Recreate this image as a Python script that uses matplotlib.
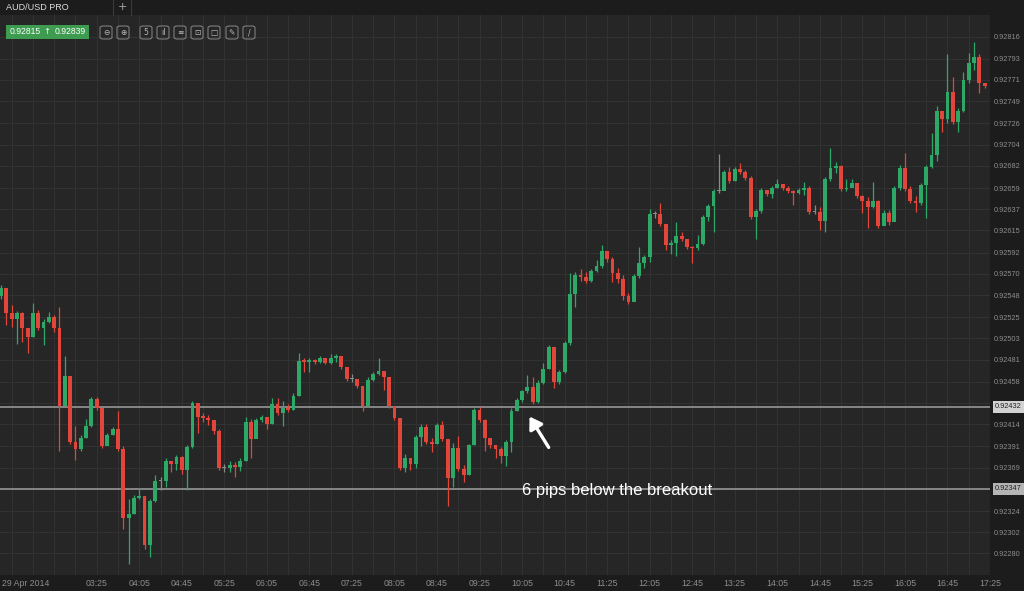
import numpy as np
import matplotlib
matplotlib.use("Agg")
import matplotlib.pyplot as plt
from matplotlib.patches import Rectangle, FancyBboxPatch
from matplotlib.transforms import blended_transform_factory

BG = "#262626"
BAR_BG = "#1c1c1c"
GRID = "#333333"
UP = "#2ea866"
DOWN = "#e2463b"
FLAT = "#8a8a8a"
LABEL = "#8c8c8c"
LEVEL = "#8e8e8e"
AXIS_FONT = "Liberation Sans"

# 5-minute AUD/USD candles, prices in 1e-5 units (first open 92547)
first_open = 92547
closes = [
    92555, 92529, 92523, 92529, 92514, 92505, 92529, 92514, 92520, 92525,
    92514, 92433, 92464, 92396, 92388, 92400, 92412, 92440, 92431, 92391,
    92403, 92409, 92388, 92317, 92321, 92338, 92340, 92289, 92334, 92355,
    92355, 92376, 92373, 92380, 92367, 92390, 92436, 92422, 92421, 92418,
    92407, 92369, 92369, 92372, 92370, 92376, 92416, 92399, 92418, 92422,
    92414, 92435, 92426, 92431, 92429, 92443, 92480, 92479, 92481, 92479,
    92483, 92478, 92483, 92485, 92473, 92461, 92461, 92454, 92433, 92460,
    92466, 92469, 92463, 92433, 92421, 92369, 92379, 92373, 92401, 92411,
    92396, 92394, 92413, 92399, 92358, 92389, 92368, 92361, 92392, 92429,
    92418, 92400, 92393, 92388, 92381, 92396, 92428, 92439, 92448, 92453,
    92437, 92457, 92471, 92494, 92458, 92468, 92498, 92549, 92569, 92567,
    92563, 92573, 92578, 92594, 92585, 92571, 92565, 92547, 92541, 92568,
    92581, 92587, 92632, 92632, 92622, 92600, 92602, 92609, 92606, 92598,
    92597, 92601, 92629, 92640, 92656, 92656, 92676, 92666, 92679, 92676,
    92669, 92629, 92635, 92657, 92653, 92659, 92663, 92659, 92656, 92654,
    92657, 92659, 92634, 92634, 92625, 92668, 92680, 92682, 92658, 92659,
    92664, 92651, 92646, 92639, 92646, 92620, 92633, 92624, 92659, 92680,
    92658, 92646, 92643, 92662, 92681, 92693, 92739, 92731, 92759, 92727,
    92739, 92771, 92789, 92795, 92768, 92765,
]
highs = [
    92558, 92555, 92538, 92531, 92530, 92514, 92540, 92532, 92523, 92530,
    92527, 92536, 92485, 92464, 92412, 92403, 92419, 92442, 92442, 92431,
    92405, 92411, 92428, 92391, 92337, 92341, 92348, 92340, 92336, 92361,
    92359, 92379, 92376, 92382, 92381, 92392, 92438, 92436, 92426, 92424,
    92418, 92409, 92373, 92376, 92375, 92379, 92422, 92419, 92420, 92424,
    92422, 92441, 92441, 92438, 92435, 92446, 92488, 92483, 92483, 92482,
    92485, 92483, 92487, 92487, 92485, 92473, 92466, 92461, 92454, 92463,
    92468, 92483, 92465, 92460, 92433, 92421, 92383, 92379, 92403, 92414,
    92414, 92400, 92415, 92417, 92398, 92395, 92402, 92372, 92394, 92431,
    92432, 92419, 92398, 92392, 92390, 92398, 92431, 92441, 92450, 92465,
    92463, 92460, 92478, 92496, 92493, 92470, 92500, 92571, 92572, 92575,
    92572, 92575, 92584, 92600, 92591, 92587, 92576, 92569, 92550, 92570,
    92598, 92590, 92637, 92635, 92643, 92622, 92605, 92624, 92613, 92606,
    92599, 92610, 92631, 92642, 92658, 92694, 92678, 92681, 92681, 92685,
    92678, 92671, 92637, 92659, 92657, 92661, 92668, 92662, 92661, 92657,
    92659, 92665, 92661, 92641, 92639, 92670, 92701, 92686, 92683, 92668,
    92668, 92664, 92652, 92650, 92665, 92647, 92636, 92636, 92661, 92683,
    92695, 92661, 92651, 92664, 92683, 92716, 92744, 92739, 92798, 92774,
    92742, 92779, 92799, 92810, 92798, 92767,
]
lows = [
    92544, 92517, 92515, 92497, 92499, 92488, 92505, 92512, 92496, 92519,
    92510, 92386, 92433, 92394, 92377, 92386, 92400, 92411, 92429, 92389,
    92392, 92403, 92386, 92305, 92269, 92321, 92337, 92285, 92276, 92333,
    92346, 92349, 92365, 92367, 92362, 92346, 92389, 92405, 92416, 92413,
    92404, 92367, 92365, 92365, 92359, 92366, 92376, 92379, 92400, 92416,
    92409, 92414, 92424, 92412, 92427, 92429, 92443, 92468, 92468, 92477,
    92478, 92476, 92477, 92479, 92471, 92459, 92458, 92452, 92428, 92433,
    92459, 92465, 92450, 92431, 92418, 92367, 92364, 92367, 92369, 92391,
    92394, 92385, 92394, 92397, 92329, 92349, 92366, 92354, 92361, 92392,
    92416, 92386, 92389, 92379, 92374, 92371, 92385, 92428, 92437, 92446,
    92435, 92436, 92456, 92471, 92452, 92456, 92467, 92496, 92536, 92563,
    92561, 92562, 92572, 92576, 92582, 92562, 92561, 92543, 92539, 92543,
    92566, 92576, 92582, 92628, 92620, 92595, 92591, 92589, 92604, 92596,
    92581, 92595, 92600, 92625, 92613, 92654, 92657, 92664, 92666, 92674,
    92667, 92627, 92606, 92633, 92651, 92649, 92659, 92657, 92654, 92641,
    92653, 92652, 92632, 92632, 92615, 92613, 92666, 92675, 92656, 92656,
    92661, 92649, 92633, 92618, 92638, 92618, 92622, 92621, 92626, 92657,
    92656, 92643, 92634, 92641, 92628, 92680, 92687, 92717, 92726, 92725,
    92717, 92738, 92768, 92781, 92757, 92763,
]

# price axis labels (0.92436 sits under the level box)
ytick_vals = [92280, 92302, 92324, 92347, 92369, 92391, 92414, 92436, 92458,
              92481, 92503, 92525, 92548, 92570, 92592, 92615, 92637, 92659,
              92682, 92704, 92726, 92749, 92771, 92793, 92816]
levels = [92432, 92347]
time_labels = ["03:25", "04:05", "04:45", "05:25", "06:05", "06:45", "07:25",
               "08:05", "08:45", "09:25", "10:05", "10:45", "11:25", "12:05",
               "12:45", "13:25", "14:05", "14:45", "15:25", "16:05", "16:45",
               "17:25"]
first_label_idx = 18
label_step = 8

closes = np.array(closes) / 1e5
highs = np.array(highs) / 1e5
lows = np.array(lows) / 1e5
opens = np.concatenate([[first_open / 1e5], closes[:-1]])
n = len(closes)
idx = np.arange(n)

fig = plt.figure(figsize=(10.24, 5.91), dpi=100, facecolor=BAR_BG)
W, H = 1024, 591
ax = fig.add_axes([0, (H - 575) / H, 990 / W, 560 / H])
ax.set_facecolor(BG)
for s in ax.spines.values():
    s.set_visible(False)

ax.set_xlim(-0.19, 185.55)
ax.set_ylim(0.922577, 0.928384)

# grid
for k in range(-4, n + 8, 4):
    ax.axvline(first_label_idx + k - 16, color=GRID, lw=0.7, zorder=0)
for v in ytick_vals:
    ax.axhline(v / 1e5, color=GRID, lw=0.7, zorder=0)

# candles
col = np.where(closes > opens, UP, np.where(closes < opens, DOWN, FLAT))
ax.vlines(idx, lows, highs, colors=col, lw=0.9, zorder=2)
bottom = np.minimum(opens, closes)
height = np.maximum(np.abs(closes - opens), 0.000012)
ax.bar(idx, height, bottom=bottom, width=0.72, color=col, lw=0, zorder=3)

# levels
for lv in levels:
    ax.axhline(lv / 1e5, color=LEVEL, lw=1.3, zorder=1)

# axis labels
shown = [v for v in ytick_vals if v not in (92436, 92347)]
ax.set_yticks([v / 1e5 for v in shown])
ax.set_yticklabels([f"{v / 1e5:.5f}" for v in shown], family=AXIS_FONT)
ax.yaxis.tick_right()
ax.tick_params(axis="y", length=0, pad=3, labelsize=5.3, colors=LABEL)
xt = [first_label_idx + label_step * k for k in range(len(time_labels))]
ax.set_xticks(xt)
ax.set_xticklabels(time_labels, family=AXIS_FONT)
ax.tick_params(axis="x", length=0, pad=3, labelsize=6.3, colors=LABEL)
fig.text(2 / W, 1 - 583 / H, "29 Apr 2014", fontsize=6.3, color=LABEL,
         va="center", family=AXIS_FONT)

trans = blended_transform_factory(ax.transAxes, ax.transData)
for lv, fc in zip(levels, ["#d2d2d2", "#b4b4b4"]):
    ax.text(1.0 + 5 / 990, lv / 1e5, f"{lv / 1e5:.5f}", transform=trans,
            fontsize=5.3, color="#222222", va="center", ha="left", family=AXIS_FONT,
            bbox=dict(boxstyle="square,pad=0.3", fc=fc, ec="none"), clip_on=False)

# annotation
tip = (99.4, 0.92422)
tail = (103.0, 0.92390)
ax.annotate("", xy=tip, xytext=tail, zorder=6,
            arrowprops=dict(arrowstyle="-|>,head_length=0.7,head_width=0.45",
                            color="white", lw=2.4, shrinkA=0, shrinkB=0))
ax.text(97.9, 0.92345, "6 pips below the breakout", color="white", fontsize=12,
        family="Liberation Sans", va="center", ha="left", zorder=6)

# top tab bar
fig.patches.append(Rectangle((0, 1 - 15 / H), 1, 15 / H, transform=fig.transFigure,
                             fc=BAR_BG, ec="none"))
fig.text(6 / W, 1 - 7 / H, "AUD/USD PRO", fontsize=6.5, color="#dddddd",
         va="center", family=AXIS_FONT)
for xl in (113, 131):
    fig.add_artist(plt.Line2D([xl / W, xl / W], [1 - 15 / H, 1], color="#3a3a3a",
                              lw=0.8, transform=fig.transFigure))
fig.text(122 / W, 1 - 7 / H, "+", fontsize=8, color="#aaaaaa", va="center", ha="center")

# toolbar
fig.patches.append(Rectangle((6 / W, 1 - 39 / H), 83 / W, 14 / H,
                             transform=fig.transFigure, fc="#3d9c4f", ec="none"))
fig.text(10 / W, 1 - 32 / H, "0.92815", fontsize=6.2, color="white", va="center",
         family=AXIS_FONT)
fig.text(47 / W, 1 - 32 / H, "↑", fontsize=6, color="white", va="center", ha="center")
fig.text(86 / W, 1 - 32 / H, "0.92839", fontsize=6.2, color="white", va="center",
         ha="right", family=AXIS_FONT)
icons = [(100, "⊖"), (117, "⊕"), (140, "5"), (157, "ıl"), (174, "≡"),
         (191, "⊡"), (208, "□"), (226, "✎"), (243, "/")]
for x0, g in icons:
    fig.patches.append(FancyBboxPatch((x0 / W, 1 - 39 / H), 12 / W, 13 / H,
                                      boxstyle="round,pad=0,rounding_size=0.003",
                                      transform=fig.transFigure, fc="none",
                                      ec="#8a8a8a", lw=0.7))
    fig.text((x0 + 6) / W, 1 - 32.5 / H, g, fontsize=5.5, color="#bbbbbb",
             va="center", ha="center", family=["DejaVu Sans"])

fig.savefig("out.png", dpi=100, facecolor=fig.get_facecolor())
